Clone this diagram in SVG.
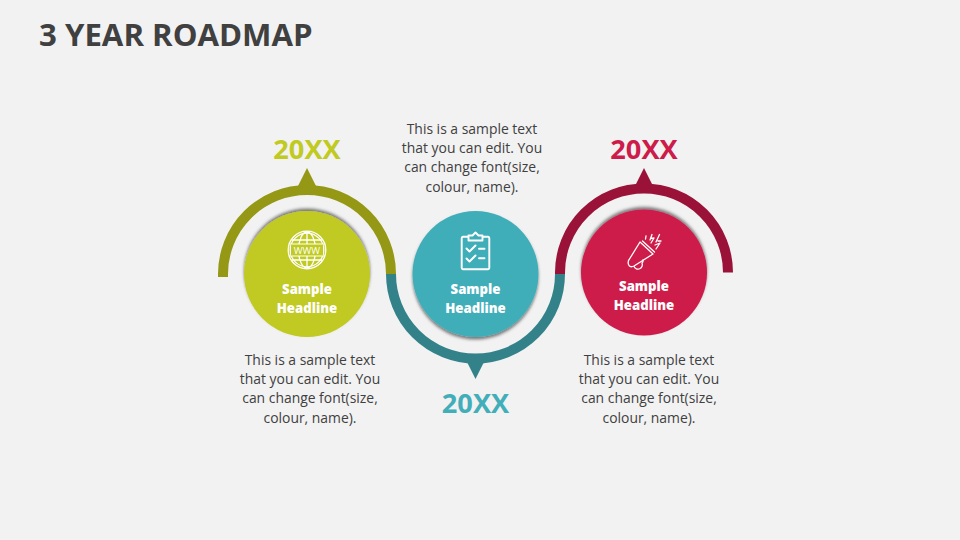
<svg xmlns="http://www.w3.org/2000/svg" width="960" height="540" viewBox="0 0 960 540">
<style>
text{font-family:"Open Sans","Liberation Sans",sans-serif}
.t{font-size:13.9px;fill:#404040;text-anchor:middle}
.h{font-size:13.2px;font-weight:800;fill:#fff;text-anchor:middle}
.y{font-size:27.2px;font-weight:700;text-anchor:middle}
.a{fill:none;stroke-width:10}
.i{fill:none;stroke:#fff;stroke-width:1.3;stroke-linecap:round;stroke-linejoin:round}
.c{stroke-width:1.900}
</style>
<defs>
<filter id="up" x="-20%" y="-20%" width="140%" height="140%"><feDropShadow dx="0" dy="-2.500" stdDeviation="1.500" flood-color="#000" flood-opacity=".5"/></filter>
<filter id="dn" x="-20%" y="-20%" width="140%" height="140%"><feDropShadow dx="0" dy="2.500" stdDeviation="1.500" flood-color="#000" flood-opacity=".5"/></filter>
</defs>
<rect width="960" height="540" fill="#f2f2f2"/>
<text x="39" y="46" font-size="31.200" font-weight="700" fill="#404040">3 YEAR ROADMAP</text>
<g id="connectors">
<path class="a" stroke="#959815" d="M223 277V274A84 84 0 0 1 391 274"/>
<path d="M298 186L307 168L316 186Z" fill="#959815"/>
<path class="a" stroke="#33828a" d="M391 274A84.500 84.500 0 0 0 560 274"/>
<path d="M467 362L475.500 379L484 362Z" fill="#33828a"/>
<path class="a" stroke="#9b1239" d="M560 274V272.500A84 84 0 0 1 728 272.500"/>
<path d="M636 184L644 168L652 184Z" fill="#9b1239"/>
</g>
<g id="node-1">
<circle cx="307" cy="274" r="63" fill="#c1ca21" filter="url(#up)"/>
<g class="i"><circle cx="307" cy="250" r="18.800"/><circle cx="307" cy="250" r="16.800"/><ellipse cx="307" cy="250" rx="8.500" ry="18"/><path d="M307 232V244M307 256V268M292 240H322M292 260H322"/></g>
<rect x="291" y="244" width="32" height="12" fill="#c1ca21"/>
<path d="M290 244H324M290 256H324" stroke="#fff" stroke-width="1.100" fill="none"/>
<text x="307" y="253.500" font-size="9.500" fill="#fff" text-anchor="middle">WWW</text>
<text class="h" x="307" y="294">Sample</text><text class="h" x="307" y="313">Headline</text>
<text class="y" x="307" y="158.500" fill="#c1ca21">20XX</text>
<text class="t" x="310" y="365">This is a sample text</text><text class="t" x="310" y="384">that you can edit. You</text><text class="t" x="310" y="403">can change font(size,</text><text class="t" x="310" y="423">colour, name).</text>
</g>
<g id="node-2">
<circle cx="475.500" cy="274" r="63" fill="#41aeb9" filter="url(#dn)"/>
<g class="i c"><path d="M468 236.700H463A1.500 1.500 0 0 0 461.700 238.200V268A1.500 1.500 0 0 0 463 269.300H488A1.500 1.500 0 0 0 489.300 268V238.200A1.500 1.500 0 0 0 488 236.700H483"/><path d="M468.500 240.500V235.500H472.500L475.500 232.500L478.500 235.500H482.500V240.500Z"/><path d="M466.500 248.500L469.500 251.500L475.500 245.500M466.500 258.500L469.500 261.500L475.500 255.500"/><path d="M479 248.700H484.500M479 258.300H484.500"/></g>
<text class="h" x="475.500" y="294">Sample</text><text class="h" x="475.500" y="313">Headline</text>
<text class="y" x="475.500" y="412.500" fill="#41aeb9">20XX</text>
<text class="t" x="472" y="134">This is a sample text</text><text class="t" x="472" y="153">that you can edit. You</text><text class="t" x="472" y="172">can change font(size,</text><text class="t" x="472" y="192">colour, name).</text>
</g>
<g id="node-3">
<circle cx="644" cy="272.500" r="63" fill="#cd1b4a" filter="url(#up)"/>
<g class="i"><path d="M640 242L653 254L634 266Q630 268 628.500 264.500Q627.500 261 629.500 259Z"/><path d="M642.500 241L654.500 252"/><path d="M634 266.500A4 4 0 0 0 642 263A3 3 0 0 0 643 260"/><path d="M646 236L645.500 239M650 240L652 234.500L650.500 238.500L654 238L651 243M656 242L659.500 234.500M655 245L660 243L656 249M658 241L661 241"/></g>
<text class="h" x="644" y="291">Sample</text><text class="h" x="644" y="310">Headline</text>
<text class="y" x="644" y="158.500" fill="#cd1b4a">20XX</text>
<text class="t" x="649" y="365">This is a sample text</text><text class="t" x="649" y="384">that you can edit. You</text><text class="t" x="649" y="403">can change font(size,</text><text class="t" x="649" y="423">colour, name).</text>
</g>
</svg>
